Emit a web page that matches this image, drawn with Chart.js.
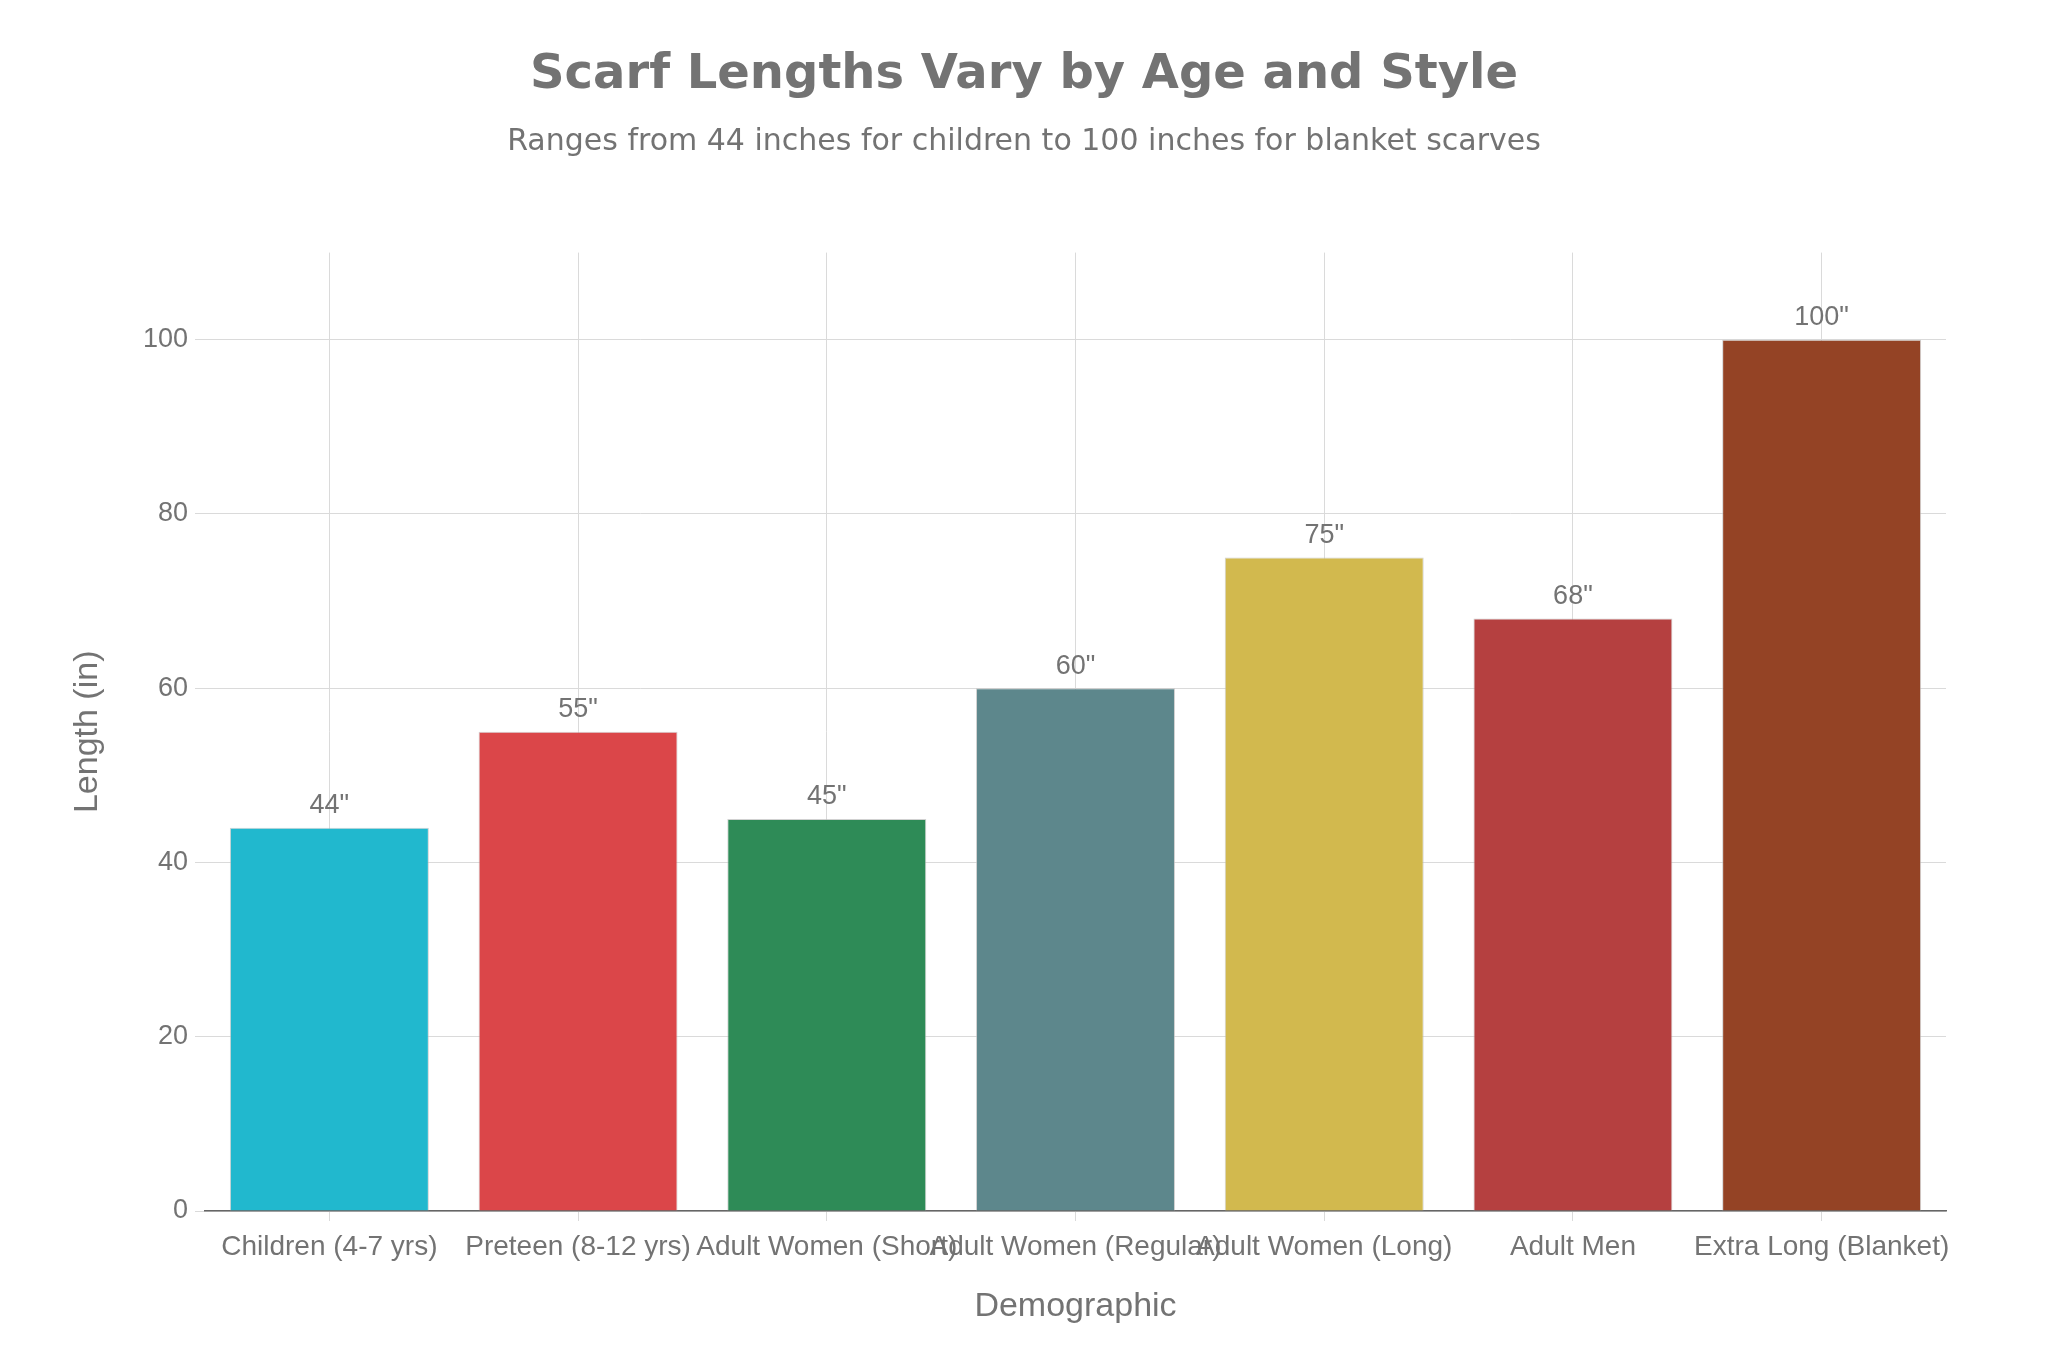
<!DOCTYPE html>
<html lang="en">
<head>
    <meta charset="UTF-8">
    <title>Scarf Lengths</title>
    <script src="https://cdn.jsdelivr.net/npm/chart.js"></script>
    <style>
        html, body { margin: 0; padding: 0; background: #ffffff; }
    </style>
</head>
<body>
    <canvas id="myChart" width="2048" height="1365"></canvas>

    <script>
        // data
        var demographics = ['Children (4-7 yrs)', 'Preteen (8-12 yrs)', 'Adult Women (Short)',
                            'Adult Women (Regular)', 'Adult Women (Long)', 'Adult Men', 'Extra Long (Blanket)'];
        var lengths = [44, 55, 45, 60, 75, 68, 100];
        var barColors = ['#21b8ce', '#db4649', '#2e8b57', '#5d878c', '#d2b94e', '#b54040', '#944325'];
        var yTicks = [0, 20, 40, 60, 80, 100];

        var textGray = '#737373';
        var gridGray = '#dadada';
        var sans = '"Liberation Sans", Arial, sans-serif';

        // writes the value above each bar
        var valueLabels = {
            id: 'valueLabels',
            afterDatasetsDraw: function(chart) {
                var c = chart.ctx;
                var meta = chart.getDatasetMeta(0);
                c.save();
                c.font = '27px ' + sans;
                c.fillStyle = textGray;
                c.textAlign = 'center';
                c.textBaseline = 'middle';
                meta.data.forEach(function(bar, i) {
                    c.fillText(lengths[i] + '"', bar.x, bar.y - 22);
                });
                c.restore();
            }
        };

        const ctx = document.getElementById('myChart');

        var myChart = new Chart(ctx, {
            type: 'bar',
            data: {
                labels: demographics,
                datasets: [{
                    label: 'Length (in)',
                    data: lengths,
                    backgroundColor: barColors,
                    borderColor: 'rgba(190,190,190,0.7)',
                    borderWidth: 1,
                    categoryPercentage: 1.0,
                    barPercentage: 0.8
                }]
            },
            plugins: [valueLabels],
            options: {
                responsive: false,
                animation: false,
                // same padding both sides so the titles sit centred on the page
                layout: {
                    padding: { left: 102, right: 102, top: 0, bottom: 28 }
                },
                plugins: {
                    legend: { display: false },
                    tooltip: { enabled: false },
                    title: {
                        display: true,
                        text: 'Scarf Lengths Vary by Age and Style',
                        color: textGray,
                        font: { family: '"DejaVu Sans", sans-serif', size: 48, weight: 'bold' },
                        padding: { top: 47, bottom: 20 }
                    },
                    subtitle: {
                        display: true,
                        text: 'Ranges from 44 inches for children to 100 inches for blanket scarves',
                        color: textGray,
                        font: { family: '"DejaVu Sans", sans-serif', size: 30 },
                        padding: { top: 0, bottom: 92 }
                    }
                },
                scales: {
                    x: {
                        grid: {
                            color: gridGray,
                            offset: false,
                            tickLength: 10,
                            tickColor: gridGray
                        },
                        border: { color: '#666666', width: 1.5 },
                        ticks: {
                            color: textGray,
                            font: { family: sans, size: 28 },
                            autoSkip: false,
                            maxRotation: 0,
                            minRotation: 0,
                            padding: 9
                        },
                        title: {
                            display: true,
                            text: 'Demographic',
                            color: textGray,
                            font: { family: sans, size: 34 },
                            padding: { top: 10, bottom: 10 }
                        },
                        afterFit: function(scale) { scale.height = 126; }
                    },
                    y: {
                        min: 0,
                        max: 110,
                        grid: {
                            color: gridGray,
                            tickLength: 10,
                            tickColor: gridGray
                        },
                        border: { display: false },
                        ticks: {
                            color: textGray,
                            font: { family: sans, size: 27 },
                            padding: 7
                        },
                        afterBuildTicks: function(scale) {
                            scale.ticks = yTicks.map(function(v) { return { value: v }; });
                        },
                        title: {
                            display: true,
                            text: 'Length (in)',
                            color: textGray,
                            font: { family: sans, size: 34 },
                            // pulls the title out into the left margin
                            padding: { top: -35, bottom: 10 }
                        },
                        afterFit: function(scale) { scale.width = 103; }
                    }
                }
            }
        });
    </script>
</body>
</html>
